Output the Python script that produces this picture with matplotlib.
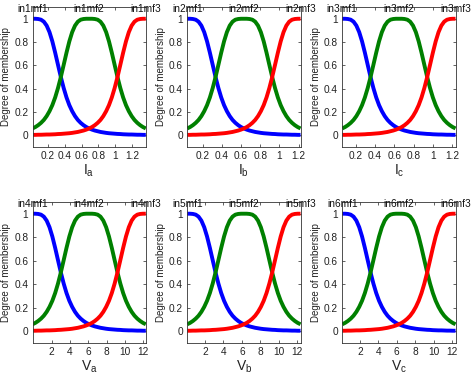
import numpy as np
import matplotlib
matplotlib.use('Agg')
import matplotlib.pyplot as plt

plt.rcParams['font.family'] = ['Liberation Sans', 'DejaVu Sans']
plt.rcParams['mathtext.fontset'] = 'custom'
plt.rcParams['mathtext.rm'] = 'Liberation Sans'

# input ranges (x limits) for the six inputs
input_names = ['I$_\\mathregular{a}$', 'I$_\\mathregular{b}$', 'I$_\\mathregular{c}$',
               'V$_\\mathregular{a}$', 'V$_\\mathregular{b}$', 'V$_\\mathregular{c}$']
input_ranges = [(0.02, 1.36), (0.04, 1.22), (0.06, 1.235),
                (-0.1, 12.3), (0.07, 12.35), (0.1, 12.35)]
x_ticks = [[0.2, 0.4, 0.6, 0.8, 1, 1.2]] * 3 + [[2, 4, 6, 8, 10, 12]] * 3
x_ticklabels = [['0.2', '0.4', '0.6', '0.8', '1', '1.2']] * 3 + \
               [['2', '4', '6', '8', '10', '12']] * 3

# membership values sampled at 41 evenly spaced points across each input range
mf1 = [1.000, 1.000, 0.998, 0.992, 0.975, 0.941, 0.885, 0.806, 0.709, 0.604,
       0.500, 0.406, 0.325, 0.259, 0.207, 0.165, 0.132, 0.107, 0.087, 0.071,
       0.059, 0.049, 0.041, 0.035, 0.029, 0.025, 0.021, 0.018, 0.016, 0.014,
       0.012, 0.011, 0.009, 0.008, 0.007, 0.007, 0.006, 0.005, 0.005, 0.004,
       0.004]
mf2 = [0.059, 0.071, 0.087, 0.107, 0.132, 0.165, 0.207, 0.259, 0.325, 0.406,
       0.500, 0.604, 0.709, 0.806, 0.885, 0.941, 0.975, 0.992, 0.998, 1.000,
       1.000, 1.000, 0.998, 0.992, 0.975, 0.941, 0.885, 0.806, 0.709, 0.604,
       0.500, 0.406, 0.325, 0.259, 0.207, 0.165, 0.132, 0.107, 0.087, 0.071,
       0.059]
mf3 = [0.004, 0.004, 0.005, 0.005, 0.006, 0.007, 0.007, 0.008, 0.009, 0.011,
       0.012, 0.014, 0.016, 0.018, 0.021, 0.025, 0.029, 0.035, 0.041, 0.049,
       0.059, 0.071, 0.087, 0.107, 0.132, 0.165, 0.207, 0.259, 0.325, 0.406,
       0.500, 0.604, 0.709, 0.806, 0.885, 0.941, 0.975, 0.992, 0.998, 1.000,
       1.000]
mf_colors = ['#0000ff', '#008000', '#ff0000']

fig = plt.figure(figsize=(4.74, 3.74), dpi=100)

lefts = [0.0686, 0.395, 0.722]
rows = [(0.607, 0.374), (0.083, 0.377)]

for i in range(6):
    r, c = divmod(i, 3)
    ax = fig.add_axes([lefts[c], rows[r][0], 0.239, rows[r][1]])
    lo, hi = input_ranges[i]
    x = np.linspace(lo, hi, len(mf1))
    for mu, col in zip([mf1, mf2, mf3], mf_colors):
        ax.plot(x, mu, color=col, lw=2.8, solid_capstyle='butt')
    ax.set_xlim(lo, hi)
    ax.set_ylim(-0.1, 1.1)
    ax.set_xticks(x_ticks[i])
    ax.set_xticklabels(x_ticklabels[i])
    ax.set_yticks([0, 0.2, 0.4, 0.6, 0.8, 1])
    ax.set_yticklabels(['0', '0.2', '0.4', '0.6', '0.8', '1'])
    ax.tick_params(direction='in', length=2, width=0.5, labelsize=7.3,
                   top=True, right=True, pad=3, colors='#222222')
    for s in ax.spines.values():
        s.set_linewidth(0.6)
        s.set_color('#333333')
    ax.set_ylabel('Degree of membership', fontsize=7.0, labelpad=2, color='#222222')
    ax.set_xlabel(input_names[i], fontsize=10, labelpad=1, color='#222222')
    # mf names above each curve's centre
    for k, xc in enumerate([lo, (lo + hi) / 2, hi]):
        ax.text(xc, 1.04, 'in%dmf%d' % (i + 1, k + 1), ha='center', va='bottom',
                fontsize=7.3, color='#111111', clip_on=False)

fig.savefig('out.png', dpi=100)
